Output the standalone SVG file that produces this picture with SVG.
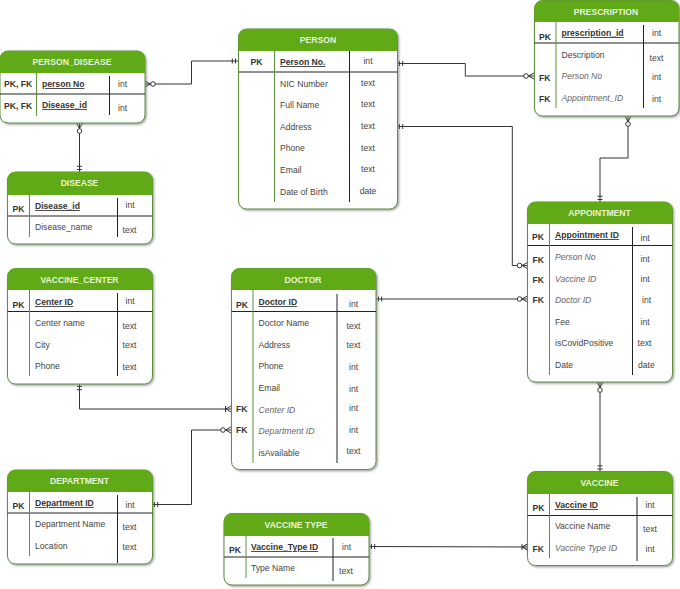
<svg xmlns="http://www.w3.org/2000/svg" width="680" height="589" viewBox="0 0 680 589">
<style>
text{font-family:"Liberation Sans",Arial,sans-serif;font-size:8.6px;fill:#444}
.t{font-weight:bold;fill:#e8f5d8;text-anchor:middle}
.k{font-weight:bold;fill:#333}
.u{font-weight:bold;fill:#333;text-decoration:underline}
.i{font-style:italic;fill:#666}
.c{text-anchor:middle}
.box{fill:#fff;stroke:#5f8f3e;stroke-width:1;filter:url(#sh)}
.hd{fill:#60a917;stroke:none}
.ln{stroke:#222;stroke-width:1;fill:none}
.g{stroke:#5f8f3e;stroke-width:1;fill:none}
.cn{fill:none;stroke:#333;stroke-width:1}
.om{marker-end:url(#one)}
.os{marker-start:url(#one)}
.zs{marker-start:url(#zm)}
.ze{marker-end:url(#zm)}
.oe{marker-end:url(#ome)}
</style>
<defs>
<filter id="sh" x="-5%" y="-5%" width="110%" height="110%"><feDropShadow dx="1.2" dy="1.2" stdDeviation="0.8" flood-color="#777" flood-opacity="0.7"/></filter>
<marker id="one" viewBox="0 0 12 12" refX="12" refY="6" markerWidth="12" markerHeight="12" markerUnits="userSpaceOnUse" orient="auto-start-reverse">
<path d="M6.300 3.500V8.500M9.500 3.500V8.500" stroke="#333" fill="none" stroke-width="1"/></marker>
<marker id="zm" viewBox="0 0 14 12" refX="14" refY="6" markerWidth="14" markerHeight="12" markerUnits="userSpaceOnUse" orient="auto-start-reverse">
<path d="M8.500 6L14 3M8.500 6L14 9" stroke="#333" fill="none" stroke-width="1"/><circle cx="6" cy="6" r="2.300" fill="#fff" stroke="#333" stroke-width="1"/></marker>
<marker id="ome" viewBox="0 0 12 12" refX="12" refY="6" markerWidth="12" markerHeight="12" markerUnits="userSpaceOnUse" orient="auto-start-reverse">
<path d="M6.500 3V9M7 6L12 3M7 6L12 9" stroke="#333" fill="none" stroke-width="1"/></marker>
</defs>

<g id="connectors">
<path class="cn zs om" d="M145 84H191.500V61H238"/>
<path class="cn zs om" d="M79.500 123V172"/>
<path class="cn os ze" d="M397 63.500H465.300V76H534"/>
<path class="cn os ze" d="M397 126.500H512.300V265.500H527.500"/>
<path class="cn zs om" d="M628 116V158H600V202"/>
<path class="cn os ze" d="M376 299H527.500"/>
<path class="cn zs om" d="M600 382V471.500"/>
<path class="cn os oe" d="M79.500 384V409H231"/>
<path class="cn os ze" d="M152 504.500H191.500V430H231"/>
<path class="cn os oe" d="M369 546.500L527.500 547"/>
</g>

<g id="person_disease">
<rect class="box" x="0" y="51" width="145" height="72" rx="8"/>
<path class="hd" d="M0 73V59a8 8 0 0 1 8-8H137a8 8 0 0 1 8 8V73Z"/>
<path class="ln" d="M0 94H145M109.500 76V115"/><path class="g" d="M36.500 73V116"/>
<text class="t" x="72" y="65">PERSON_DISEASE</text>
<text class="k" x="4" y="87">PK, FK</text><text class="u" x="42" y="87">person No</text><text x="118" y="87">int</text>
<text class="k" x="4" y="109">PK, FK</text><text class="u" x="42" y="108">Disease_id</text><text x="118" y="111">int</text>
</g>

<g id="disease">
<rect class="box" x="7.500" y="172" width="145" height="72" rx="8"/>
<path class="hd" d="M7.500 195V180a8 8 0 0 1 8-8H144.500a8 8 0 0 1 8 8V195Z"/>
<path class="ln" d="M7.500 216H152.500M117.500 198V237"/><path class="g" d="M29.500 195V237"/>
<text class="t" x="79.500" y="186">DISEASE</text>
<text class="k" x="12.500" y="212">PK</text><text class="u" x="35" y="209">Disease_id</text><text x="125.500" y="208">int</text>
<text x="35" y="230">Disease_name</text><text x="122.500" y="233">text</text>
</g>

<g id="person">
<rect class="box" x="238.500" y="29" width="159" height="180" rx="8"/>
<path class="hd" d="M238.500 51V37a8 8 0 0 1 8-8H389.500a8 8 0 0 1 8 8V51Z"/>
<path class="ln" d="M238.500 72H397.500M349.500 51V202"/><path class="g" d="M274.500 51V202"/>
<text class="t" x="318" y="43">PERSON</text>
<text class="k c" x="256.500" y="65">PK</text><text class="u" x="280" y="65">Person No.</text><text class="c" x="368" y="64">int</text>
<text x="280" y="87">NIC Number</text><text class="c" x="368" y="86">text</text>
<text x="280" y="108">Full Name</text><text class="c" x="368" y="107">text</text>
<text x="280" y="130">Address</text><text class="c" x="368" y="129">text</text>
<text x="280" y="151">Phone</text><text class="c" x="368" y="151">text</text>
<text x="280" y="173">Email</text><text class="c" x="368" y="172">text</text>
<text x="280" y="195">Date of Birth</text><text class="c" x="368" y="194">date</text>
</g>

<g id="prescription">
<rect class="box" x="534.500" y="0.500" width="144.500" height="115.500" rx="8"/>
<path class="hd" d="M534.500 22V8.500a8 8 0 0 1 8-8H671a8 8 0 0 1 8 8V22Z"/>
<path class="ln" d="M534.500 43H679M643.500 25V108"/><path class="g" d="M556 22V108"/>
<text class="t" x="606" y="14.500">PRESCRIPTION</text>
<text class="k" x="539" y="40">PK</text><text class="u" x="561.500" y="36">prescription_id</text><text x="652" y="36">int</text>
<text x="561.500" y="58">Description</text><text x="649.500" y="61">text</text>
<text class="k" x="539" y="81">FK</text><text class="i" x="561.500" y="79">Person No</text><text x="652" y="80">int</text>
<text class="k" x="539" y="102">FK</text><text class="i" x="561.500" y="101">Appointment_ID</text><text x="652" y="102">int</text>
</g>

<g id="appointment">
<rect class="box" x="527.500" y="202" width="145" height="180" rx="8"/>
<path class="hd" d="M527.500 224V210a8 8 0 0 1 8-8H664.500a8 8 0 0 1 8 8V224Z"/>
<path class="ln" d="M527.500 245.500H672.500M632.500 227V375"/><path class="g" d="M549.500 224V375"/>
<text class="t" x="599.500" y="216">APPOINTMENT</text>
<text class="k" x="532" y="240">PK</text><text class="u" x="555" y="238">Appointment ID</text><text x="640.500" y="241">int</text>
<text class="k" x="532.500" y="263">FK</text><text class="i" x="555" y="260">Person No</text><text x="640.500" y="262">int</text>
<text class="k" x="532.500" y="283">FK</text><text class="i" x="555" y="282">Vaccine ID</text><text x="640.500" y="282">int</text>
<text class="k" x="532.500" y="303">FK</text><text class="i" x="555" y="303">Doctor ID</text><text x="642" y="303">int</text>
<text x="555" y="325">Fee</text><text x="640.500" y="325">int</text>
<text x="555" y="346">isCovidPositive</text><text x="637.500" y="346">text</text>
<text x="555" y="368">Date</text><text x="638" y="368">date</text>
</g>

<g id="doctor">
<rect class="box" x="231.500" y="268.500" width="144.500" height="201" rx="8"/>
<path class="hd" d="M231.500 290V276.500a8 8 0 0 1 8-8H368a8 8 0 0 1 8 8V290Z"/>
<path class="ln" d="M231.500 311.500H376M337 294V463"/><path class="g" d="M253 290V463"/>
<text class="t" x="303" y="283">DOCTOR</text>
<text class="k" x="236" y="308">PK</text><text class="u" x="258.500" y="305">Doctor ID</text><text x="349" y="307">int</text>
<text x="258.500" y="326">Doctor Name</text><text x="346.500" y="329">text</text>
<text x="258.500" y="348">Address</text><text x="346.500" y="348">text</text>
<text x="258.500" y="369">Phone</text><text x="349" y="370">int</text>
<text x="258.500" y="391">Email</text><text x="349" y="392">int</text>
<text class="k" x="236" y="412">FK</text><text class="i" x="258.500" y="413">Center ID</text><text x="349" y="411">int</text>
<text class="k" x="236" y="433">FK</text><text class="i" x="258.500" y="434">Department ID</text><text x="349" y="433">int</text>
<text x="258.500" y="456">isAvailable</text><text x="346.500" y="454">text</text>
</g>

<g id="vaccine_center">
<rect class="box" x="7.500" y="268.500" width="145" height="115.500" rx="8"/>
<path class="hd" d="M7.500 290V276.500a8 8 0 0 1 8-8H144.500a8 8 0 0 1 8 8V290Z"/>
<path class="ln" d="M7.500 311.500H152.500M117.500 293V376"/><path class="g" d="M29.500 290V376"/>
<text class="t" x="79.500" y="283">VACCINE_CENTER</text>
<text class="k" x="12.500" y="308">PK</text><text class="u" x="35" y="305">Center ID</text><text x="125.500" y="304">int</text>
<text x="35" y="326">Center name</text><text x="122.500" y="329">text</text>
<text x="35" y="348">City</text><text x="122.500" y="348">text</text>
<text x="35" y="369">Phone</text><text x="122.500" y="370">text</text>
</g>

<g id="department">
<rect class="box" x="7.500" y="470" width="145" height="94" rx="8"/>
<path class="hd" d="M7.500 492V478a8 8 0 0 1 8-8H144.500a8 8 0 0 1 8 8V492Z"/>
<path class="ln" d="M7.500 513H152.500M117.500 495V563"/><path class="g" d="M29.500 492V556"/>
<text class="t" x="79.500" y="484">DEPARTMENT</text>
<text class="k" x="12.500" y="509">PK</text><text class="u" x="35" y="506">Department ID</text><text x="125.500" y="508">int</text>
<text x="35" y="527">Department Name</text><text x="122.500" y="530">text</text>
<text x="35" y="549">Location</text><text x="122.500" y="550">text</text>
</g>

<g id="vaccine_type">
<rect class="box" x="224" y="513.500" width="145" height="71.500" rx="8"/>
<path class="hd" d="M224 536V521.500a8 8 0 0 1 8-8H361a8 8 0 0 1 8 8V536Z"/>
<path class="ln" d="M224 557H369M333 538V581"/><path class="g" d="M246 536V578"/>
<text class="t" x="296" y="528">VACCINE TYPE</text>
<text class="k" x="229" y="553">PK</text><text class="u" x="251" y="550">Vaccine_Type ID</text><text x="342" y="550">int</text>
<text x="251" y="571">Type Name</text><text x="339" y="574">text</text>
</g>

<g id="vaccine">
<rect class="box" x="527.500" y="471.500" width="145" height="94" rx="8"/>
<path class="hd" d="M527.500 494V479.500a8 8 0 0 1 8-8H664.500a8 8 0 0 1 8 8V494Z"/>
<path class="ln" d="M527.500 515.500H672.500M637 497V561"/><path class="g" d="M549.500 494V558"/>
<text class="t" x="599.500" y="486">VACCINE</text>
<text class="k" x="532.500" y="511">PK</text><text class="u" x="555" y="508">Vaccine ID</text><text x="645.500" y="508">int</text>
<text x="555" y="529">Vaccine Name</text><text x="643" y="532">text</text>
<text class="k" x="532.500" y="552">FK</text><text class="i" x="555" y="551">Vaccine Type ID</text><text x="645.500" y="552">int</text>
</g>
</svg>
